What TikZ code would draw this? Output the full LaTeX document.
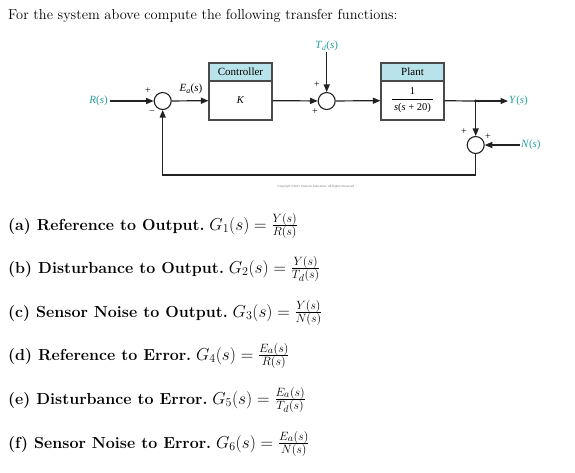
\documentclass[tikz,border=0pt]{standalone}
\usepackage{fontspec}
\newfontfamily\tim{Liberation Serif}
\newfontfamily\lsans{Liberation Sans}
\usetikzlibrary{arrows.meta}
\DeclareMathSizes{16}{16}{12.5}{10}
\definecolor{labc}{HTML}{2A9D9F}
\definecolor{hdr}{HTML}{B9E3EA}
\definecolor{boxc}{HTML}{4A4A4A}
\definecolor{linec}{HTML}{222222}
\tikzset{
  blkh/.style={draw=boxc, line width=1.1pt, fill=hdr, minimum width=63pt, minimum height=18pt, inner sep=0pt, font=\tim\fontsize{11}{12}\selectfont},
  blkb/.style={draw=boxc, line width=1.1pt, fill=white, minimum width=63pt, minimum height=39pt, inner sep=0pt, font=\tim\fontsize{10.5}{12}\selectfont},
  sumc/.style={circle, draw=linec, line width=1.1pt, minimum size=17pt, inner sep=0pt},
  sig/.style={text=labc, inner sep=1pt, font=\tim\fontsize{11}{13}\selectfont},
  sgn/.style={inner sep=0pt, font=\tim\fontsize{10}{12}\selectfont},
  arr/.style={draw=linec, line width=1.2pt, -{Triangle[length=7.5pt,width=6pt]}},
  ln/.style={draw=linec, line width=1.2pt},
  qline/.style={anchor=base west, inner sep=0pt, font=\fontsize{16}{19}\selectfont},
}
\newcommand\qgap{\hspace{0.3em}}
\begin{document}
\begin{tikzpicture}[x=1pt,y=-1pt]
\useasboundingbox (0,0) rectangle (575,472);
\fill[white] (0,0) rectangle (575,472);
% header text
\node[anchor=base west, inner sep=0pt, font=\fontsize{14.4}{17}\selectfont] (head) at (8,19) {For the system above compute the following transfer functions:};
% blocks
\node[blkh] (ctrlh) at (240.5,72) {Controller};
\node[blkb] (ctrlb) at (240.5,100.5) {\textit{K}};
\node[blkh] (planth) at (412.5,72) {Plant};
\node[blkb] (plantb) at (412.5,100.5) {\setlength\tabcolsep{2pt}\renewcommand\arraystretch{0.95}\begin{tabular}{c}1\\[1pt]\hline\rule{0pt}{11pt}\textit{s}(\textit{s} + 20)\end{tabular}};
% summing junctions
\node[sumc] (s1) at (162.7,101) {};
\node[sumc] (s2) at (326.7,101) {};
\node[sumc] (s3) at (475.7,145) {};
% signals
\node[sig, anchor=east, inner sep=2pt] (R) at (110,101) {\textit{R}(\textit{s})};
\node[sig, anchor=south] (Td) at (326.7,52) {\textit{T}\textsubscript{\textit{d}}(\textit{s})};
\node[sig, anchor=west] (Y) at (508,101) {\textit{Y}(\textit{s})};
\node[sig, anchor=west] (N) at (520,145) {\textit{N}(\textit{s})};
\node[inner sep=0pt, font=\tim\fontsize{11}{13}\selectfont] (Ea) at (191,89) {\textit{E}\textsubscript{\textit{a}}(\textit{s})};
% signs
\node[sgn] (p1) at (148,91) {+};
\node[sgn] (m1) at (152,113) {−};
\node[sgn] (p2) at (317,85) {+};
\node[sgn] (p3) at (315,112) {+};
\node[sgn] (p4) at (464,132) {+};
\node[sgn] (p5) at (488,137) {+};
% connectors
\coordinate (br) at (475.7,101);
\coordinate (fb) at (475.7,175);
\draw[arr] (R) -- (s1);
\draw[arr] (s1) -- (ctrlb);
\draw[arr] (ctrlb) -- (s2);
\draw[arr] (Td) -- (s2);
\draw[arr] (s2) -- (plantb);
\draw[ln] (plantb) -- (br);
\draw[arr] (br) -- (Y);
\draw[arr] (br) -- (s3);
\draw[arr] (N) -- (s3);
\draw[ln] (s3) -- (fb);
\draw[arr] (fb) -| (s1);
\fill[linec] (br) circle (1.6pt);
% copyright
\node[text=gray, inner sep=0pt, font=\lsans\fontsize{3}{4}\selectfont] (copy) at (316,187) {Copyright ©2017 Pearson Education, All Rights Reserved};
% questions
\node[qline] (qa) at (8,230) {\textbf{(a) Reference to Output.}\qgap $G_1(s)=\frac{Y(s)}{R(s)}$};
\node[qline] (qb) at (8,273) {\textbf{(b) Disturbance to Output.}\qgap $G_2(s)=\frac{Y(s)}{T_d(s)}$};
\node[qline] (qc) at (8,317) {\textbf{(c) Sensor Noise to Output.}\qgap $G_3(s)=\frac{Y(s)}{N(s)}$};
\node[qline] (qd) at (8,360) {\textbf{(d) Reference to Error.}\qgap $G_4(s)=\frac{E_a(s)}{R(s)}$};
\node[qline] (qe) at (8,404) {\textbf{(e) Disturbance to Error.}\qgap $G_5(s)=\frac{E_a(s)}{T_d(s)}$};
\node[qline] (qf) at (8,448) {\textbf{(f) Sensor Noise to Error.}\qgap $G_6(s)=\frac{E_a(s)}{N(s)}$};
\end{tikzpicture}
\end{document}
